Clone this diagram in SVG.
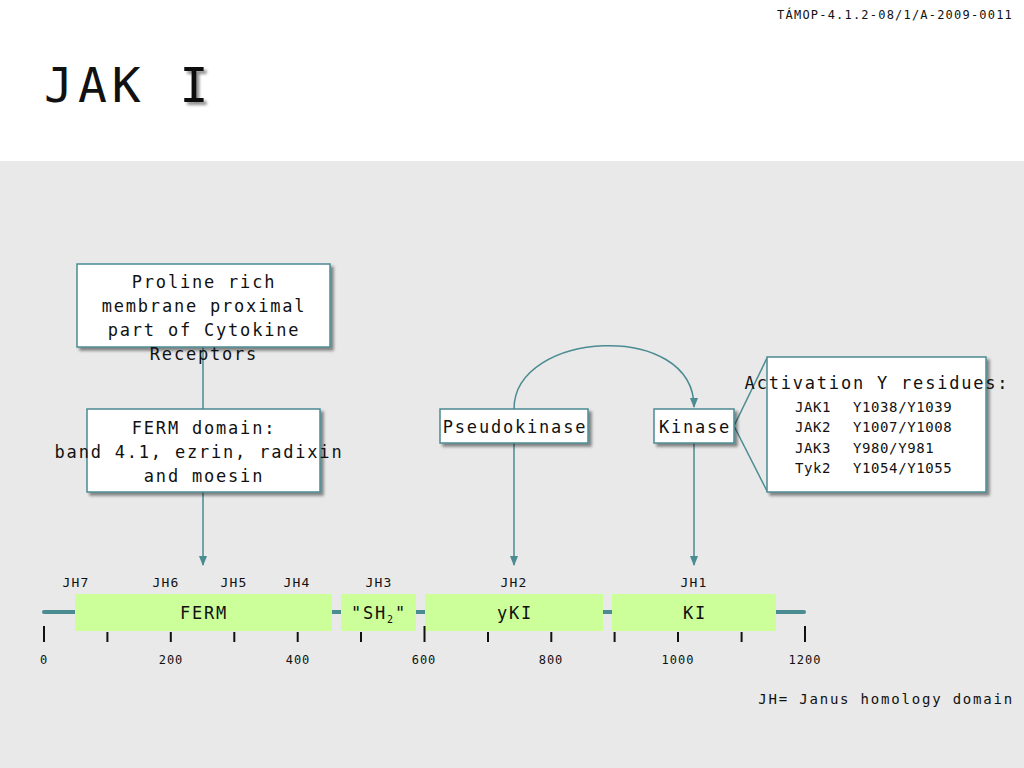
<svg xmlns="http://www.w3.org/2000/svg" width="1024" height="768" viewBox="0 0 1024 768">
<defs>
<style>
text{font-family:"DejaVu Sans Mono","Liberation Mono",monospace;fill:#111}
.box{fill:#fff;stroke:#4b8b92;stroke-width:1.5}
.bt{font-size:17px;letter-spacing:1.8px;text-anchor:middle}
.sm{font-size:14px;letter-spacing:0.6px}
.jh{font-size:13px;letter-spacing:1.2px;text-anchor:middle}
.sc{font-size:12px;letter-spacing:1px;text-anchor:middle}
.conn{stroke:#4b8b92;stroke-width:1.5;fill:none}
.dom{fill:#ccff99}
.tick{stroke:#111;stroke-width:2}
</style>
<filter id="sh" x="-10%" y="-10%" width="130%" height="140%">
<feGaussianBlur in="SourceAlpha" stdDeviation="1.5"/>
<feOffset dx="3" dy="3" result="b"/>
<feComponentTransfer><feFuncA type="linear" slope="0.45"/></feComponentTransfer>
<feMerge><feMergeNode/><feMergeNode in="SourceGraphic"/></feMerge>
</filter>
<marker id="arr" viewBox="0 0 10 10" refX="9" refY="5" markerWidth="7" markerHeight="7" orient="auto">
<path d="M0,1 L10,5 L0,9 Z" fill="#4b8b92"/>
</marker>
</defs>
<rect x="0" y="0" width="1024" height="768" fill="#fff"/>
<rect x="0" y="161" width="1024" height="607" fill="#e8e9e8"/>
<text x="1013" y="19" font-size="12" text-anchor="end" letter-spacing="1.2">TÁMOP-4.1.2-08/1/A-2009-0011</text>
<text x="44" y="102" font-size="48" letter-spacing="5">JAK <tspan filter="url(#sh)">I</tspan></text>

<g id="connectors">
<line class="conn" x1="203" y1="347" x2="203" y2="409"/>
<line class="conn" x1="203" y1="492" x2="203" y2="565" marker-end="url(#arr)"/>
<line class="conn" x1="514" y1="443" x2="514" y2="565" marker-end="url(#arr)"/>
<line class="conn" x1="694" y1="443" x2="694" y2="565" marker-end="url(#arr)"/>
<path class="conn" d="M514,409 C514,330 694,320 694,407" marker-end="url(#arr)"/>
<line class="conn" x1="734" y1="426" x2="767" y2="358"/>
<line class="conn" x1="734" y1="426" x2="767" y2="491"/>
</g>

<g id="proline">
<rect class="box" x="77" y="264" width="253" height="83" filter="url(#sh)"/>
<text class="bt" x="204" y="288">Proline rich</text>
<text class="bt" x="204" y="312">membrane proximal</text>
<text class="bt" x="204" y="336">part of Cytokine</text>
<text class="bt" x="204" y="360">Receptors</text>
</g>

<g id="ferm-box">
<rect class="box" x="87" y="409" width="233" height="83" filter="url(#sh)"/>
<text class="bt" x="204" y="434">FERM domain:</text>
<text class="bt" x="199" y="458">band 4.1, ezrin, radixin</text>
<text class="bt" x="204" y="482">and moesin</text>
</g>

<g id="pseudokinase">
<rect class="box" x="440" y="409" width="148" height="34" filter="url(#sh)"/>
<text class="bt" x="515" y="433" letter-spacing="0.8">Pseudokinase</text>
</g>

<g id="kinase">
<rect class="box" x="654" y="409" width="80" height="34" filter="url(#sh)"/>
<text class="bt" x="695" y="433" letter-spacing="0.8">Kinase</text>
</g>

<g id="activation">
<rect class="box" x="767" y="357" width="219" height="135" filter="url(#sh)"/>
<text class="bt" x="877" y="389">Activation Y residues:</text>
<text class="sm" x="795" y="412">JAK1</text><text class="sm" x="853" y="412">Y1038/Y1039</text>
<text class="sm" x="795" y="432">JAK2</text><text class="sm" x="853" y="432">Y1007/Y1008</text>
<text class="sm" x="795" y="453">JAK3</text><text class="sm" x="853" y="453">Y980/Y981</text>
<text class="sm" x="795" y="473">Tyk2</text><text class="sm" x="853" y="473">Y1054/Y1055</text>
</g>

<g id="protein-bar">
<line x1="44" y1="612" x2="804" y2="612" stroke="#4b8b92" stroke-width="4" stroke-linecap="round"/>
<rect class="dom" x="75" y="594" width="257" height="37"/>
<rect class="dom" x="341" y="594" width="75" height="37"/>
<rect class="dom" x="425" y="594" width="178" height="37"/>
<rect class="dom" x="612" y="594" width="164" height="37"/>
<text class="bt" x="204" y="619" font-size="16" letter-spacing="1.5">FERM</text>
<text class="bt" x="379" y="619" font-size="16" letter-spacing="1">"SH<tspan font-size="10" dy="4">2</tspan><tspan dy="-4">"</tspan></text>
<text class="bt" x="515" y="619" font-size="16" letter-spacing="1.5">yKI</text>
<text class="bt" x="695" y="619" font-size="16" letter-spacing="1.5">KI</text>
<text class="jh" x="76" y="587">JH7</text>
<text class="jh" x="166" y="587">JH6</text>
<text class="jh" x="234" y="587">JH5</text>
<text class="jh" x="297" y="587">JH4</text>
<text class="jh" x="379" y="587">JH3</text>
<text class="jh" x="514" y="587">JH2</text>
<text class="jh" x="694" y="587">JH1</text>
</g>

<g id="scale">
<line class="tick" x1="44" y1="626" x2="44" y2="642"/>
<line class="tick" x1="107.4" y1="632" x2="107.4" y2="642"/>
<line class="tick" x1="170.8" y1="632" x2="170.8" y2="642"/>
<line class="tick" x1="234.3" y1="632" x2="234.3" y2="642"/>
<line class="tick" x1="297.7" y1="632" x2="297.7" y2="642"/>
<line class="tick" x1="361" y1="632" x2="361" y2="642"/>
<line class="tick" x1="424.5" y1="626" x2="424.5" y2="642"/>
<line class="tick" x1="488" y1="632" x2="488" y2="642"/>
<line class="tick" x1="551.3" y1="632" x2="551.3" y2="642"/>
<line class="tick" x1="614.6" y1="632" x2="614.6" y2="642"/>
<line class="tick" x1="678" y1="632" x2="678" y2="642"/>
<line class="tick" x1="741.6" y1="632" x2="741.6" y2="642"/>
<line class="tick" x1="805" y1="626" x2="805" y2="642"/>
<text class="sc" x="44" y="664">0</text>
<text class="sc" x="171" y="664">200</text>
<text class="sc" x="298" y="664">400</text>
<text class="sc" x="424" y="664">600</text>
<text class="sc" x="551" y="664">800</text>
<text class="sc" x="678" y="664">1000</text>
<text class="sc" x="805" y="664">1200</text>
</g>
<text x="1014" y="704" font-size="14" text-anchor="end" letter-spacing="1.8">JH= Janus homology domain</text>
</svg>
